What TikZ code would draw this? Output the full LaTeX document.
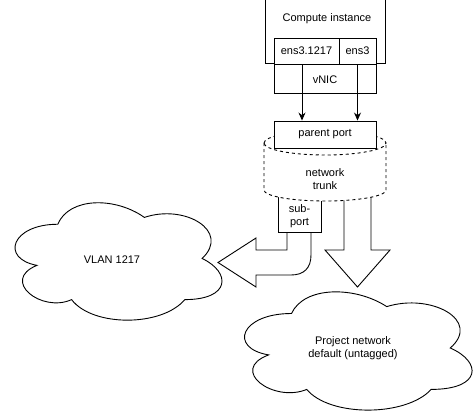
\documentclass[tikz,border=0pt]{standalone}
\usepackage{fontspec}
\setmainfont{Liberation Sans}
\usetikzlibrary{arrows.meta}
\begin{document}
\begin{tikzpicture}[x=1pt,y=-1pt, line width=0.9pt,
  txt/.style={font=\fontsize{11}{13}\selectfont, align=center, inner sep=0pt},
  box/.style={draw, fill=white, inner sep=0pt, font=\fontsize{11}{13}\selectfont, align=center},
  arr/.style={-{Stealth[length=8pt,width=7pt]}},
  blk/.style={draw, fill=white, line join=miter},
  dsh/.style={dash pattern=on 3pt off 3pt}]
\useasboundingbox (0,0) rectangle (474,418);

% clouds
\begin{scope}[shift={(0pt,-190pt)}, x=231pt, y=-137pt]
\draw[fill=white] (0.25,0.25) .. controls (0.05,0.25) and (0,0.5) .. (0.16,0.55)
 .. controls (0,0.66) and (0.18,0.9) .. (0.31,0.8)
 .. controls (0.4,1) and (0.7,1) .. (0.8,0.8)
 .. controls (1,0.8) and (1,0.6) .. (0.875,0.5)
 .. controls (1,0.3) and (0.8,0.1) .. (0.625,0.2)
 .. controls (0.5,0.05) and (0.3,0.05) .. (0.25,0.25) -- cycle;
\end{scope}
\begin{scope}[shift={(228pt,-279pt)}, x=254pt, y=-138pt]
\draw[fill=white] (0.25,0.25) .. controls (0.05,0.25) and (0,0.5) .. (0.16,0.55)
 .. controls (0,0.66) and (0.18,0.9) .. (0.31,0.8)
 .. controls (0.4,1) and (0.7,1) .. (0.8,0.8)
 .. controls (1,0.8) and (1,0.6) .. (0.875,0.5)
 .. controls (1,0.3) and (0.8,0.1) .. (0.625,0.2)
 .. controls (0.5,0.05) and (0.3,0.05) .. (0.25,0.25) -- cycle;
\end{scope}
\node[txt] (vlan) at (112,260) {VLAN 1217};
\node[txt] (proj) at (353,348.5) {Project network\\default (untagged)};

% block arrows
\draw[blk] (344,195) -- (344,250) -- (325,250) -- (357.5,287) -- (390,250) -- (371,250) -- (371,195);
\draw[blk] (287,232) -- (287,250) -- (256,250) -- (256,238) -- (218,262.5) -- (256,287) -- (256,275)
  -- (291,275) .. controls (304,275) and (311,268) .. (311,255) -- (311,232);

% sub-port
\node[box, minimum width=43pt, minimum height=37pt] (sub) at (299.5,213.5) {};
\node[txt] (subt) at (299.5,216) {sub-\\port};

% network trunk cylinder
\fill[white] (264,143) -- (264,190) .. controls (264,196.1) and (291.3,201) .. (325,201)
  .. controls (358.7,201) and (386,196.1) .. (386,190) -- (386,143)
  .. controls (386,136.4) and (358.7,131) .. (325,131) .. controls (291.3,131) and (264,136.4) .. (264,143) -- cycle;
\draw[dsh] (264,143) -- (264,190) .. controls (264,196.1) and (291.3,201) .. (325,201)
  .. controls (358.7,201) and (386,196.1) .. (386,190) -- (386,143);
\draw[dsh] (264,143) .. controls (264,136.4) and (291.3,131) .. (325,131)
  .. controls (358.7,131) and (386,136.4) .. (386,143)
  .. controls (386,149.6) and (358.7,155) .. (325,155)
  .. controls (291.3,155) and (264,149.6) .. (264,143);
\node[txt] (trunk) at (325,179.5) {network\\trunk};

% parent port
\node[box, minimum width=102pt, minimum height=27pt] (pp) at (325,134.5) {parent port};

% compute instance
\node[box, minimum width=120pt, minimum height=80pt, anchor=south] (comp) at (325,64) {};
\node[txt] (compt) at (327,19) {Compute instance};
\node[box, minimum width=102pt, minimum height=55pt] (vnic) at (325,65.5) {};
\node[txt] (vnict) at (325,80) {vNIC};
\node[box, minimum width=65pt, minimum height=26pt] (ens1) at (306.5,51) {ens3.1217};
\node[box, minimum width=37pt, minimum height=26pt] (ens2) at (357.5,51) {ens3};

\draw[arr] ([xshift=-4.5pt]ens1.south) -- ([xshift=-4.5pt]ens1.south |- pp.north);
\draw[arr] (ens2.south) -- (ens2.south |- pp.north);
\end{tikzpicture}
\end{document}
